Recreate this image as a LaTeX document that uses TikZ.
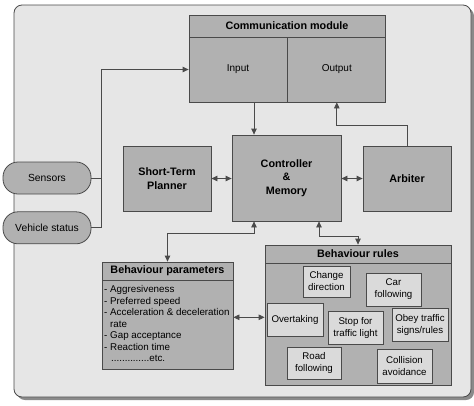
\documentclass[tikz,border=0pt]{standalone}
\usepackage{fontspec}
\setmainfont{Liberation Sans}
\usetikzlibrary{arrows.meta, shapes, positioning}

\definecolor{bgfill}{HTML}{E6E6E6}
\definecolor{shadowgray}{HTML}{8A8A8A}
\definecolor{boxfill}{HTML}{B1B1B1}
\definecolor{rulefill}{HTML}{DADADA}
\definecolor{edgegray}{HTML}{4A4A4A}

\begin{document}
\begin{tikzpicture}[x=1pt, y=-1pt,
    >={Triangle[length=6pt, width=5.5pt]},
    every node/.style={inner sep=0pt, align=center},
    box/.style={draw=edgegray, fill=boxfill, line width=0.8pt},
    boldtext/.style={font=\fontsize{10.8}{13.5}\selectfont\bfseries},
    plaintext/.style={font=\fontsize{10}{12}\selectfont},
    rulebox/.style={draw=edgegray, fill=rulefill, line width=0.8pt, font=\fontsize{9.7}{12}\selectfont},
    pill/.style={box, rounded corners=15pt, minimum width=88pt, minimum height=32pt, font=\fontsize{10.3}{12}\selectfont}]
      \useasboundingbox (0,0) rectangle (474,405);

      % frame %
      \fill[shadowgray, rounded corners=8pt] (17,8) rectangle (474,400);
      \draw[edgegray, fill=bgfill, line width=0.8pt, rounded corners=8pt] (14,5) rectangle (471,397);

      % nodes %
      \node[box, boldtext, minimum width=196pt, minimum height=22pt] (commtitle) at (287,26) {Communication module};
      \node[box, plaintext, minimum width=98pt, minimum height=65pt] (input) at (238,69.5) {Input};
      \node[box, plaintext, minimum width=98pt, minimum height=65pt, right=0pt of input] (output) {Output};

      \node[box, boldtext, minimum width=109pt, minimum height=86pt] (controller) at (286.5,178) {Controller\\\&\\Memory};
      \node[box, boldtext, minimum width=88pt, minimum height=65pt] (planner) at (167,178.5) {Short-Term\\Planner};
      \node[box, boldtext, minimum width=88pt, minimum height=65pt] (arbiter) at (407,178.5) {Arbiter};

      \node[pill] (sensors) at (47,178) {Sensors};
      \node[pill, below=17pt of sensors] (vehicle) {Vehicle status};

      \node[box, boldtext, minimum width=131pt, minimum height=18pt] (ptitle) at (167.5,271) {Behaviour parameters};
      \node[box, minimum width=131pt, minimum height=89pt, below=0pt of ptitle] (pbody) {};
      \node[anchor=north west, align=left, font=\fontsize{9.8}{11.5}\selectfont] (plist) at (104,285.5)
        {- Aggresiveness\\- Preferred speed\\- Acceleration \& deceleration\\\phantom{- }rate\\- Gap acceptance\\- Reaction time\\\hspace*{7pt}..............etc.};

      \node[box, boldtext, minimum width=186pt, minimum height=18pt] (rtitle) at (358,254) {Behaviour rules};
      \node[box, minimum width=186pt, minimum height=122pt, below=0pt of rtitle] (rbody) {};

      \node[rulebox, minimum width=47pt, minimum height=31pt] (change) at (326.5,281.5) {Change\\direction};
      \node[rulebox, minimum width=55pt, minimum height=33pt] (carfollow) at (393.5,289.5) {Car\\following};
      \node[rulebox, minimum width=56pt, minimum height=33pt] (overtake) at (295,319.5) {Overtaking};
      \node[rulebox, minimum width=55pt, minimum height=33pt] (stoplight) at (355.5,327.5) {Stop for\\traffic light};
      \node[rulebox, minimum width=56pt, minimum height=33pt] (obey) at (420,324.5) {Obey traffic\\signs/rules};
      \node[rulebox, minimum width=54pt, minimum height=32pt] (road) at (314,363) {Road\\following};
      \node[rulebox, minimum width=55pt, minimum height=34pt] (collision) at (404.5,366) {Collision\\avoidance};

      % edges %
      \coordinate (bus) at (101,69.5);
      \draw[->, line width=0.8, edgegray] (vehicle.east) -| (bus) -- (input.west);
      \draw[line width=0.8, edgegray] (sensors.east) -- (sensors.east -| bus);
      \draw[->, line width=0.8, edgegray] ([xshift=16pt]input.south) -- ([xshift=16pt]input.south |- controller.north);
      \draw[->, line width=0.8, edgegray] (arbiter.north) -- ++(0,-20) -| (output.south);
      \draw[<->, line width=0.8, edgegray] (planner.east) -- (planner.east -| controller.west);
      \draw[<->, line width=0.8, edgegray] (controller.east |- arbiter.west) -- (arbiter.west);
      \draw[<->, line width=0.8, edgegray] ([xshift=-32.5pt]controller.south) -- ++(0,12) -| (ptitle.north);
      \draw[<->, line width=0.8, edgegray] ([xshift=32.5pt]controller.south) -- ++(0,15) -| (rtitle.north);
      \draw[<->, line width=0.8, edgegray] ([yshift=8pt]pbody.east) -- ([yshift=8pt]pbody.east -| rbody.west);
\end{tikzpicture}
\end{document}
